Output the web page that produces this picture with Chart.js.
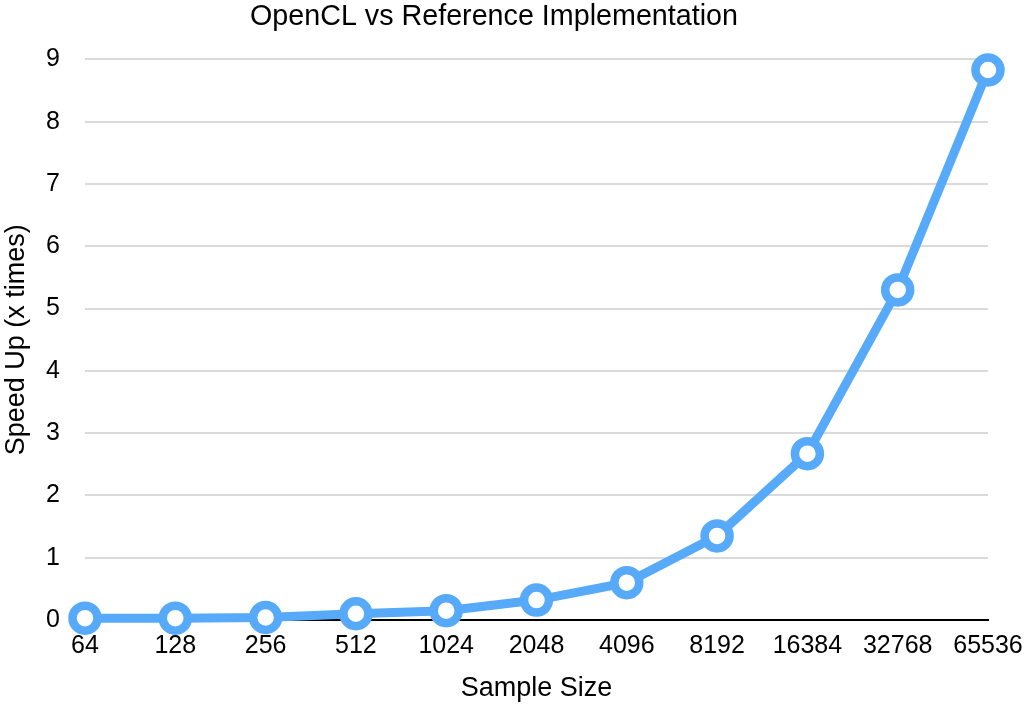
<!DOCTYPE html>
<html>
<head>
<meta charset="utf-8">
<script src="https://cdn.jsdelivr.net/npm/chart.js@4.4.0/dist/chart.umd.min.js"></script>
<style>
    html, body { margin: 0; padding: 0; background: #fff; }
    #wrap { width: 1024px; height: 705px; }
</style>
</head>
<body>
<div id="wrap"><canvas id="speedChart"></canvas></div>
<script>
// Sample sizes along the x axis
const sampleSizes = ['64', '128', '256', '512', '1024', '2048', '4096', '8192', '16384', '32768', '65536'];
// Speed up
const speedUp = [0.03, 0.03, 0.04, 0.1, 0.15, 0.32, 0.6, 1.35, 2.67, 5.3, 8.83];
const yTicks = [0, 1, 2, 3, 4, 5, 6, 7, 8, 9];

const FONT = '"Liberation Sans", Arial, Helvetica, sans-serif';
const lineBlue = '#56aaf9';

new Chart(document.getElementById('speedChart'), {
    type: 'line',
    data: {
        labels: sampleSizes,
        datasets: [{
            label: 'Speed Up',
            data: speedUp,
            borderColor: lineBlue,
            borderWidth: 9,
            pointRadius: 12.5,
            pointHoverRadius: 12.5,
            pointBorderWidth: 8.5,
            pointBorderColor: lineBlue,
            pointBackgroundColor: '#ffffff',
            tension: 0,
            clip: false
        }]
    },
    options: {
        responsive: true,
        maintainAspectRatio: false,
        animation: false,
        layout: { padding: { left: 0, right: 36, top: 0, bottom: 0 } },
        plugins: {
            legend: { display: false },
            tooltip: { enabled: false },
            title: {
                display: true,
                text: 'OpenCL vs Reference Implementation',
                color: '#000',
                font: { family: FONT, size: 28.7, weight: 'normal' },
                padding: { top: 0, bottom: 25 }
            }
        },
        scales: {
            x: {
                offset: false,
                grid: { display: false, drawTicks: false },
                border: { display: true, color: '#000', width: 2 },
                ticks: {
                    color: '#000',
                    font: { family: FONT, size: 25 },
                    padding: 11,
                    maxRotation: 0,
                    autoSkip: false
                },
                title: {
                    display: true,
                    text: 'Sample Size',
                    color: '#000',
                    font: { family: FONT, size: 27 },
                    padding: { top: 0, bottom: 0 }
                },
                afterFit: (scale) => {
                    scale.height = 85;
                    // let the layout padding alone decide where the last point sits
                    scale.paddingRight = 0;
                    scale.paddingLeft = 0;
                }
            },
            y: {
                min: 0,
                max: 9,
                afterBuildTicks: (scale) => { scale.ticks = yTicks.map(v => ({ value: v })); },
                grid: {
                    color: (ctx) => ctx.tick && ctx.tick.value === 0 ? 'rgba(0,0,0,0)' : '#dadada',
                    lineWidth: 2,
                    drawTicks: false
                },
                border: { display: false },
                ticks: {
                    color: '#000',
                    font: { family: FONT, size: 25 },
                    padding: 25
                },
                title: {
                    display: true,
                    text: 'Speed Up (x times)',
                    color: '#000',
                    font: { family: FONT, size: 27 },
                    padding: { top: 0, bottom: 0 }
                },
                afterFit: (scale) => { scale.width = 85; }
            }
        }
    }
});
</script>
</body>
</html>
